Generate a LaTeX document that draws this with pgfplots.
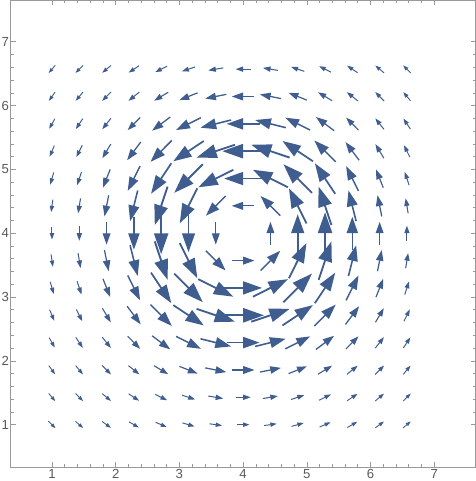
\documentclass[border=0pt]{standalone}
\usepackage{pgfplots}
\pgfplotsset{compat=1.18}
\usepackage{pgfplotstable}
\usetikzlibrary{arrows.meta}
\usepackage{fontspec}
\setmainfont{Liberation Sans}
\definecolor{arr}{RGB}{63,94,143}
\pgfplotstableread{
x y u v
1.000 6.571 -0.083 -0.097
1.429 6.571 -0.095 -0.095
1.857 6.571 -0.110 -0.092
2.286 6.571 -0.132 -0.088
2.714 6.571 -0.149 -0.074
3.143 6.571 -0.166 -0.055
3.571 6.571 -0.188 -0.031
4.000 6.571 -0.190 0
4.429 6.571 -0.188 0.031
4.857 6.571 -0.166 0.055
5.286 6.571 -0.149 0.074
5.714 6.571 -0.132 0.088
6.143 6.571 -0.110 0.092
6.571 6.571 -0.095 0.095
1.000 6.143 -0.079 -0.110
1.429 6.143 -0.092 -0.110
1.857 6.143 -0.112 -0.112
2.286 6.143 -0.137 -0.109
2.714 6.143 -0.177 -0.106
3.143 6.143 -0.229 -0.091
3.571 6.143 -0.265 -0.053
4.000 6.143 -0.286 0
4.429 6.143 -0.265 0.053
4.857 6.143 -0.229 0.091
5.286 6.143 -0.177 0.106
5.714 6.143 -0.137 0.109
6.143 6.143 -0.112 0.112
6.571 6.143 -0.092 0.110
1.000 5.714 -0.071 -0.124
1.429 5.714 -0.088 -0.132
1.857 5.714 -0.109 -0.137
2.286 5.714 -0.157 -0.157
2.714 5.714 -0.228 -0.171
3.143 5.714 -0.312 -0.156
3.571 5.714 -0.385 -0.096
4.000 5.714 -0.413 0
4.429 5.714 -0.385 0.096
4.857 5.714 -0.312 0.156
5.286 5.714 -0.228 0.171
5.714 5.714 -0.157 0.157
6.143 5.714 -0.109 0.137
6.571 5.714 -0.088 0.132
1.000 5.286 -0.059 -0.139
1.429 5.286 -0.074 -0.149
1.857 5.286 -0.106 -0.177
2.286 5.286 -0.171 -0.228
2.714 5.286 -0.269 -0.269
3.143 5.286 -0.383 -0.255
3.571 5.286 -0.482 -0.161
4.000 5.286 -0.524 0
4.429 5.286 -0.482 0.161
4.857 5.286 -0.383 0.255
5.286 5.286 -0.269 0.269
5.714 5.286 -0.171 0.228
6.143 5.286 -0.106 0.177
6.571 5.286 -0.074 0.149
1.000 4.857 -0.044 -0.153
1.429 4.857 -0.055 -0.166
1.857 4.857 -0.091 -0.229
2.286 4.857 -0.156 -0.312
2.714 4.857 -0.255 -0.383
3.143 4.857 -0.359 -0.359
3.571 4.857 -0.440 -0.220
4.000 4.857 -0.476 0
4.429 4.857 -0.440 0.220
4.857 4.857 -0.359 0.359
5.286 4.857 -0.255 0.383
5.714 4.857 -0.156 0.312
6.143 4.857 -0.091 0.229
6.571 4.857 -0.055 0.166
1.000 4.429 -0.022 -0.157
1.429 4.429 -0.031 -0.188
1.857 4.429 -0.053 -0.265
2.286 4.429 -0.096 -0.385
2.714 4.429 -0.161 -0.482
3.143 4.429 -0.220 -0.440
3.571 4.429 -0.247 -0.247
4.000 4.429 -0.286 0
4.429 4.429 -0.247 0.247
4.857 4.429 -0.220 0.440
5.286 4.429 -0.161 0.482
5.714 4.429 -0.096 0.385
6.143 4.429 -0.053 0.265
6.571 4.429 -0.031 0.188
1.000 4.000 0 -0.159
1.429 4.000 0 -0.190
1.857 4.000 0 -0.286
2.286 4.000 0 -0.413
2.714 4.000 0 -0.524
3.143 4.000 0 -0.476
3.571 4.000 0 -0.286
4.429 4.000 0 0.286
4.857 4.000 0 0.476
5.286 4.000 0 0.524
5.714 4.000 0 0.413
6.143 4.000 0 0.286
6.571 4.000 0 0.190
1.000 3.571 0.022 -0.157
1.429 3.571 0.031 -0.188
1.857 3.571 0.053 -0.265
2.286 3.571 0.096 -0.385
2.714 3.571 0.161 -0.482
3.143 3.571 0.220 -0.440
3.571 3.571 0.247 -0.247
4.000 3.571 0.286 0
4.429 3.571 0.247 0.247
4.857 3.571 0.220 0.440
5.286 3.571 0.161 0.482
5.714 3.571 0.096 0.385
6.143 3.571 0.053 0.265
6.571 3.571 0.031 0.188
1.000 3.143 0.044 -0.153
1.429 3.143 0.055 -0.166
1.857 3.143 0.091 -0.229
2.286 3.143 0.156 -0.312
2.714 3.143 0.255 -0.383
3.143 3.143 0.359 -0.359
3.571 3.143 0.440 -0.220
4.000 3.143 0.476 0
4.429 3.143 0.440 0.220
4.857 3.143 0.359 0.359
5.286 3.143 0.255 0.383
5.714 3.143 0.156 0.312
6.143 3.143 0.091 0.229
6.571 3.143 0.055 0.166
1.000 2.714 0.059 -0.139
1.429 2.714 0.074 -0.149
1.857 2.714 0.106 -0.177
2.286 2.714 0.171 -0.228
2.714 2.714 0.269 -0.269
3.143 2.714 0.383 -0.255
3.571 2.714 0.482 -0.161
4.000 2.714 0.524 0
4.429 2.714 0.482 0.161
4.857 2.714 0.383 0.255
5.286 2.714 0.269 0.269
5.714 2.714 0.171 0.228
6.143 2.714 0.106 0.177
6.571 2.714 0.074 0.149
1.000 2.286 0.071 -0.124
1.429 2.286 0.088 -0.132
1.857 2.286 0.109 -0.137
2.286 2.286 0.157 -0.157
2.714 2.286 0.228 -0.171
3.143 2.286 0.312 -0.156
3.571 2.286 0.385 -0.096
4.000 2.286 0.413 0
4.429 2.286 0.385 0.096
4.857 2.286 0.312 0.156
5.286 2.286 0.228 0.171
5.714 2.286 0.157 0.157
6.143 2.286 0.109 0.137
6.571 2.286 0.088 0.132
1.000 1.857 0.079 -0.110
1.429 1.857 0.092 -0.110
1.857 1.857 0.112 -0.112
2.286 1.857 0.137 -0.109
2.714 1.857 0.177 -0.106
3.143 1.857 0.229 -0.091
3.571 1.857 0.265 -0.053
4.000 1.857 0.286 0
4.429 1.857 0.265 0.053
4.857 1.857 0.229 0.091
5.286 1.857 0.177 0.106
5.714 1.857 0.137 0.109
6.143 1.857 0.112 0.112
6.571 1.857 0.092 0.110
1.000 1.429 0.083 -0.097
1.429 1.429 0.095 -0.095
1.857 1.429 0.110 -0.092
2.286 1.429 0.132 -0.088
2.714 1.429 0.149 -0.074
3.143 1.429 0.166 -0.055
3.571 1.429 0.188 -0.031
4.000 1.429 0.190 0
4.429 1.429 0.188 0.031
4.857 1.429 0.166 0.055
5.286 1.429 0.149 0.074
5.714 1.429 0.132 0.088
6.143 1.429 0.110 0.092
6.571 1.429 0.095 0.095
1.000 1.000 0.090 -0.090
1.429 1.000 0.097 -0.083
1.857 1.000 0.110 -0.079
2.286 1.000 0.124 -0.071
2.714 1.000 0.139 -0.059
3.143 1.000 0.153 -0.044
3.571 1.000 0.157 -0.022
4.000 1.000 0.159 0
4.429 1.000 0.157 0.022
4.857 1.000 0.153 0.044
5.286 1.000 0.139 0.059
5.714 1.000 0.124 0.071
6.143 1.000 0.110 0.079
6.571 1.000 0.097 0.083
}\field
\begin{document}
\begin{tikzpicture}
\begin{axis}[
  scale only axis, width=458bp, height=460bp,
  xmin=0.35, xmax=7.65, ymin=0.33, ymax=7.65,
  xtick={1,...,7}, ytick={1,...,7},
  minor tick num=4,
  tick align=inside,
  xtick pos=both, ytick pos=both,
  xticklabel pos=lower, yticklabel pos=left,
  major tick length=5bp, minor tick length=3bp,
  axis line style={black!40},
  every tick/.style={black!40, line width=0.6bp},
  ticklabel style={font=\fontsize{13}{15}\selectfont, text=black!65},
  yticklabel style={inner sep=1.5bp},
  xticklabel style={inner sep=2bp},
  /pgf/number format/assume math mode=true,
]
\addplot[arr, point meta={sqrt((\thisrow{u})^2+(\thisrow{v})^2)*62.7*1.25},
  point meta min=0, point meta max=1000,
  quiver={u=\thisrow{u}, v=\thisrow{v}, scale arrows=1.25,
    every arrow/.append style={/utils/exec={%
      \pgfmathsetmacro\Lm{\pgfplotspointmetatransformed}%
      \pgfmathsetmacro\hl{0.50*\Lm}%
      \pgfmathsetmacro\hw{0.34*\Lm}%
      \pgfmathsetmacro\lw{0.55+0.032*\Lm}},
      line width=\lw bp, -{Triangle[length=\hl bp, width=\hw bp]}}}]
  table[x expr=\thisrow{x}-0.625*\thisrow{u}, y expr=\thisrow{y}-0.625*\thisrow{v}] {\field};
\end{axis}
\end{tikzpicture}
\end{document}
